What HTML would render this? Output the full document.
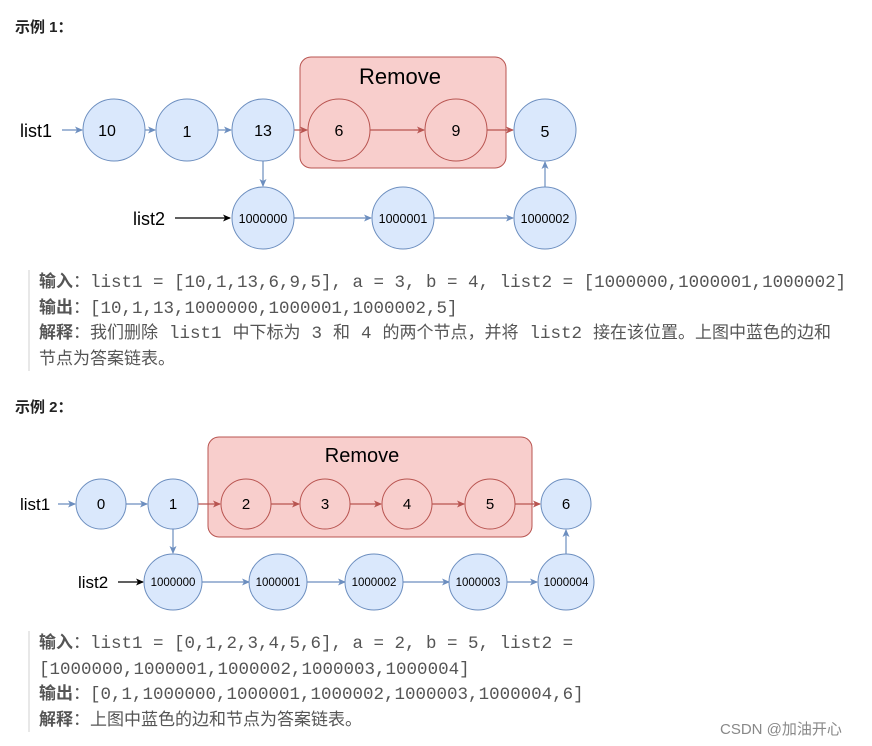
<!DOCTYPE html>
<html><head><meta charset="utf-8"><style>
body{margin:0;width:872px;height:746px;background:#fff;position:relative;overflow:hidden;font-family:"Liberation Sans","Noto Sans CJK SC",sans-serif;}
.h{position:absolute;left:15px;font-weight:bold;font-size:15px;color:#222;}
.q{position:absolute;left:28px;border-left:2px solid #e8e8e8;padding-left:9px;font-size:17px;line-height:24.5px;color:#555;white-space:nowrap;}
.q b{color:#555;}
.m{font-family:"Liberation Mono","Noto Sans CJK SC",monospace;font-size:17.5px;}
.s{margin:0 11px;}
svg{position:absolute;left:0;top:0;}
</style></head><body>
<div class="h" style="top:16px">示例 1：</div>
<div class="q" style="top:270px;width:830px"><b>输入</b>：<span class="m">list1 = [10,1,13,6,9,5], a = 3, b = 4, list2 = [1000000,1000001,1000002]</span><br><b>输出</b>：<span class="m">[10,1,13,1000000,1000001,1000002,5]</span><br><b>解释</b>：我们删除<span class="m s">list1</span>中下标为<span class="m s">3</span>和<span class="m s">4</span>的两个节点，并将<span class="m s">list2</span>接在该位置。上图中蓝色的边和<br>节点为答案链表。</div>
<div class="h" style="top:396px">示例 2：</div>
<div class="q" style="top:631px;width:830px"><b>输入</b>：<span class="m">list1 = [0,1,2,3,4,5,6], a = 2, b = 5, list2 =</span><br><span class="m">[1000000,1000001,1000002,1000003,1000004]</span><br><b>输出</b>：<span class="m">[0,1,1000000,1000001,1000002,1000003,1000004,6]</span><br><b>解释</b>：上图中蓝色的边和节点为答案链表。</div>
<div style="position:absolute;left:720px;top:718px;font-size:15px;color:#888;">CSDN @加油开心</div>
<svg width="872" height="746" font-family="Liberation Sans, sans-serif">
<defs>
<marker id="b" markerWidth="8" markerHeight="8" refX="7" refY="4" orient="auto" markerUnits="userSpaceOnUse"><path d="M0,0.5 L8,4 L0,7.5 L2,4z" fill="#6c8ebf"/></marker>
<marker id="r" markerWidth="8" markerHeight="8" refX="7" refY="4" orient="auto" markerUnits="userSpaceOnUse"><path d="M0,0.5 L8,4 L0,7.5 L2,4z" fill="#b85450"/></marker>
<marker id="k" markerWidth="8" markerHeight="8" refX="7" refY="4" orient="auto" markerUnits="userSpaceOnUse"><path d="M0,0.5 L8,4 L0,7.5 L2,4z" fill="#000"/></marker>
</defs>
<rect x="300" y="57" width="206" height="111" rx="11" fill="#f8cecc" stroke="#b85450"/>
<text x="400" y="84" font-size="22" text-anchor="middle">Remove</text>
<text x="20" y="137" font-size="18">list1</text>
<text x="133" y="225" font-size="18">list2</text>
<g stroke="#6c8ebf" stroke-width="1.2" fill="none">
<line x1="62" y1="130" x2="82" y2="130" marker-end="url(#b)"/>
<line x1="145" y1="130" x2="155" y2="130" marker-end="url(#b)"/>
<line x1="218" y1="130" x2="231" y2="130" marker-end="url(#b)"/>
<line x1="263" y1="161" x2="263" y2="186" marker-end="url(#b)"/>
<line x1="294" y1="218" x2="371" y2="218" marker-end="url(#b)"/>
<line x1="434" y1="218" x2="513" y2="218" marker-end="url(#b)"/>
<line x1="545" y1="187" x2="545" y2="162" marker-end="url(#b)"/>
</g>
<g stroke="#b85450" stroke-width="1.2" fill="none">
<line x1="294" y1="130" x2="307" y2="130" marker-end="url(#r)"/>
<line x1="370" y1="130" x2="424" y2="130" marker-end="url(#r)"/>
<line x1="487" y1="130" x2="513" y2="130" marker-end="url(#r)"/>
</g>
<line x1="175" y1="218" x2="230" y2="218" stroke="#000" stroke-width="1.2" marker-end="url(#k)"/>
<g fill="#dae8fc" stroke="#6c8ebf">
<circle cx="114" cy="130" r="31"/><circle cx="187" cy="130" r="31"/><circle cx="263" cy="130" r="31"/><circle cx="545" cy="130" r="31"/>
<circle cx="263" cy="218" r="31"/><circle cx="403" cy="218" r="31"/><circle cx="545" cy="218" r="31"/>
</g>
<g fill="#f8cecc" stroke="#b85450"><circle cx="339" cy="130" r="31"/><circle cx="456" cy="130" r="31"/></g>
<g font-size="16" text-anchor="middle">
<text x="107" y="136">10</text><text x="187" y="137">1</text><text x="263" y="136">13</text><text x="339" y="136">6</text><text x="456" y="136">9</text><text x="545" y="137">5</text>
</g>
<g font-size="12.5" text-anchor="middle">
<text x="263" y="223">1000000</text><text x="403" y="223">1000001</text><text x="545" y="223">1000002</text>
</g>
<rect x="208" y="437" width="324" height="100" rx="11" fill="#f8cecc" stroke="#b85450"/>
<text x="362" y="462" font-size="20" text-anchor="middle">Remove</text>
<text x="20" y="510" font-size="17">list1</text>
<text x="78" y="588" font-size="17">list2</text>
<g stroke="#6c8ebf" stroke-width="1.2" fill="none">
<line x1="58" y1="504" x2="75" y2="504" marker-end="url(#b)"/>
<line x1="126" y1="504" x2="147" y2="504" marker-end="url(#b)"/>
<line x1="173" y1="529" x2="173" y2="553" marker-end="url(#b)"/>
<line x1="202" y1="582" x2="249" y2="582" marker-end="url(#b)"/>
<line x1="307" y1="582" x2="345" y2="582" marker-end="url(#b)"/>
<line x1="403" y1="582" x2="449" y2="582" marker-end="url(#b)"/>
<line x1="507" y1="582" x2="537" y2="582" marker-end="url(#b)"/>
<line x1="566" y1="554" x2="566" y2="530" marker-end="url(#b)"/>
</g>
<g stroke="#b85450" stroke-width="1.2" fill="none">
<line x1="198" y1="504" x2="220" y2="504" marker-end="url(#r)"/>
<line x1="271" y1="504" x2="299" y2="504" marker-end="url(#r)"/>
<line x1="350" y1="504" x2="381" y2="504" marker-end="url(#r)"/>
<line x1="432" y1="504" x2="464" y2="504" marker-end="url(#r)"/>
<line x1="515" y1="504" x2="540" y2="504" marker-end="url(#r)"/>
</g>
<line x1="118" y1="582" x2="143" y2="582" stroke="#000" stroke-width="1.2" marker-end="url(#k)"/>
<g fill="#dae8fc" stroke="#6c8ebf">
<ellipse cx="101" cy="504" rx="25" ry="25"/><ellipse cx="173" cy="504" rx="25" ry="25"/><ellipse cx="566" cy="504" rx="25" ry="25"/>
<ellipse cx="173" cy="582" rx="29" ry="28"/><ellipse cx="278" cy="582" rx="29" ry="28"/><ellipse cx="374" cy="582" rx="29" ry="28"/><ellipse cx="478" cy="582" rx="29" ry="28"/><ellipse cx="566" cy="582" rx="28" ry="28"/>
</g>
<g fill="#f8cecc" stroke="#b85450">
<ellipse cx="246" cy="504" rx="25" ry="25"/><ellipse cx="325" cy="504" rx="25" ry="25"/><ellipse cx="407" cy="504" rx="25" ry="25"/><ellipse cx="490" cy="504" rx="25" ry="25"/>
</g>
<g font-size="15" text-anchor="middle">
<text x="101" y="509">0</text><text x="173" y="509">1</text><text x="246" y="509">2</text><text x="325" y="509">3</text><text x="407" y="509">4</text><text x="490" y="509">5</text><text x="566" y="509">6</text>
</g>
<g font-size="11.5" text-anchor="middle">
<text x="173" y="586">1000000</text><text x="278" y="586">1000001</text><text x="374" y="586">1000002</text><text x="478" y="586">1000003</text><text x="566" y="586">1000004</text>
</g>
</svg>
</body></html>
